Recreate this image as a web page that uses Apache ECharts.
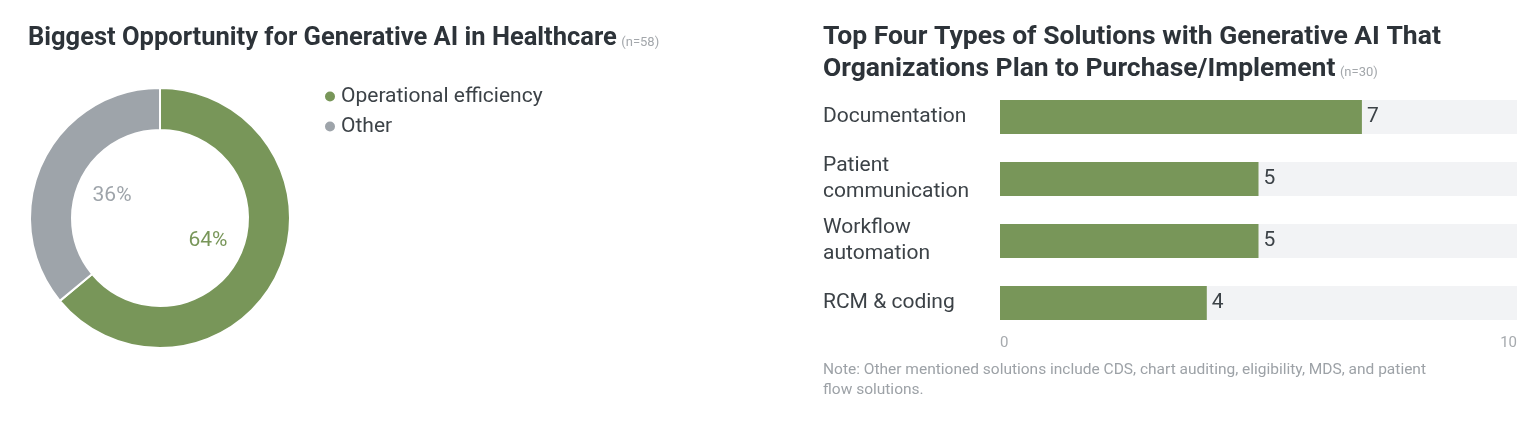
<!DOCTYPE html>
<html>
<head>
<meta charset="utf-8">
<script src="https://cdn.jsdelivr.net/npm/echarts@6/dist/echarts.min.js"></script>
<style>
  html, body { margin: 0; padding: 0; background: #fff; }
  #chart { width: 1536px; height: 421px; }
</style>
</head>
<body>
<div id="chart"></div>
<script>
var opportunityNames = ['Operational efficiency', 'Other'];
var opportunityValues = [64, 36];
var opportunityColors = ['#789659', '#9ea4aa'];

var solutionNames = ['Documentation', 'Patient\ncommunication', 'Workflow\nautomation', 'RCM & coding'];
var solutionValues = [7, 5, 5, 4];

var axisMax = 10;

var chart = echarts.init(document.getElementById('chart'));

var pieData = opportunityNames.map(function (n, i) {
    return { name: n, value: opportunityValues[i], itemStyle: { color: opportunityColors[i] } };
});
// second invisible pie only carries the % labels inside the hole
var labelData = opportunityNames.map(function (n, i) {
    return {
        name: n,
        value: opportunityValues[i],
        itemStyle: { color: 'transparent' },
        label: { color: opportunityColors[i] }
    };
});

option = {
    textStyle: { fontFamily: 'Roboto' },
    title: [
        {
            left: 28,
            top: 26,
            padding: 0,
            text: '{a|Biggest Opportunity for Generative AI in Healthcare} {b|(n=58)}',
            textStyle: {
                rich: {
                    a: { fontSize: 25.5, fontWeight: 'bold', color: '#2d3339', fontFamily: 'Roboto' },
                    b: { fontSize: 13, fontWeight: 'normal', color: '#a3a7ab', fontFamily: 'Roboto', padding: [7, 0, 0, 0] }
                }
            }
        },
        {
            left: 823,
            top: 21,
            padding: 0,
            text: '{a|Top Four Types of Solutions with Generative AI That}\n{a|Organizations Plan to Purchase/Implement} {b|(n=30)}',
            textStyle: {
                lineHeight: 32,
                rich: {
                    a: { fontSize: 26.5, fontWeight: 'bold', color: '#2d3339', fontFamily: 'Roboto', lineHeight: 32 },
                    b: { fontSize: 13, fontWeight: 'normal', color: '#a3a7ab', fontFamily: 'Roboto', padding: [7, 0, 0, 0] }
                }
            }
        },
        {
            left: 823,
            top: 360,
            padding: 0,
            text: 'Note: Other mentioned solutions include CDS, chart auditing, eligibility, MDS, and patient\nflow solutions.',
            textStyle: { fontSize: 15.5, fontWeight: 'normal', color: '#9da2a7', lineHeight: 20, fontFamily: 'Roboto' }
        }
    ],
    legend: {
        orient: 'vertical',
        left: 318,
        top: 81,
        icon: 'circle',
        itemWidth: 12,
        itemHeight: 12,
        itemGap: 9,
        data: opportunityNames,
        textStyle: { fontSize: 21, color: '#3c4247', fontFamily: 'Roboto' }
    },
    grid: {
        left: 1000,
        top: 86,
        width: 517,
        height: 248
    },
    xAxis: {
        type: 'value',
        min: 0,
        max: axisMax,
        interval: axisMax,
        splitLine: { show: false },
        axisLine: { show: false },
        axisTick: { show: false },
        axisLabel: {
            color: '#a6aaae',
            fontSize: 15,
            margin: 2,
            alignMinLabel: 'left',
            alignMaxLabel: 'right'
        }
    },
    yAxis: {
        type: 'category',
        inverse: true,
        data: solutionNames,
        axisLine: { show: false },
        axisTick: { show: false },
        axisLabel: {
            align: 'left',
            margin: 177,
            fontSize: 21,
            lineHeight: 26,
            padding: [4, 0, 0, 0],
            color: '#3c4247'
        }
    },
    series: [
        {
            type: 'pie',
            center: [160, 218],
            radius: [88, 130],
            startAngle: 90,
            silent: true,
            label: { show: false },
            itemStyle: { borderColor: '#fff', borderWidth: 2 },
            data: pieData
        },
        {
            type: 'pie',
            center: [160, 218],
            radius: [0, 100],
            startAngle: 90,
            silent: true,
            label: {
                show: true,
                position: 'inside',
                formatter: '{c}%',
                fontSize: 21,
                fontFamily: 'Roboto'
            },
            labelLine: { show: false },
            data: labelData
        },
        {
            type: 'bar',
            data: solutionValues,
            barWidth: 34,
            showBackground: true,
            backgroundStyle: { color: '#f2f3f5' },
            itemStyle: { color: '#789659' },
            label: {
                show: true,
                position: 'right',
                distance: 5,
                fontSize: 21,
                padding: [4, 0, 0, 0],
                color: '#3c4247'
            }
        }
    ]
};
chart.setOption(option);
</script>
</body>
</html>
